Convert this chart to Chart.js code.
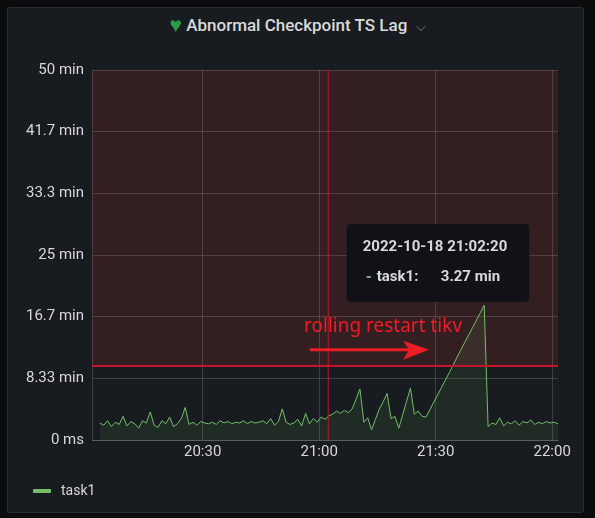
<!DOCTYPE html>
<html>
<head>
<meta charset="utf-8">
<script src="https://cdn.jsdelivr.net/npm/chart.js@4"></script>
<style>
  body { margin: 0; background: #0b0c0e; width: 595px; height: 518px; overflow: hidden; font-family: Roboto, sans-serif; }
  #panel { position: absolute; left: 7px; top: 7px; width: 575px; height: 504px; background: #181b1f; border: 1px solid #2a2d32; border-radius: 3px; }
  #title { position: absolute; left: 0; top: 13px; width: 595px; text-align: center; color: #d8d9da; font-size: 17px; font-weight: 500; }
  #title .heart { color: #299c46; font-size: 21px; vertical-align: -1px; }
  #title .caret { color: #8e8e8e; font-size: 13px; margin-left: 4px; }
  #legend { position: absolute; left: 33px; top: 482px; color: #d8d9da; font-size: 14px; }
  #legend span.sw { display: inline-block; width: 18px; height: 4px; background: #73bf69; vertical-align: middle; margin-right: 10px; border-radius: 1px; }
  canvas { position: absolute; left: 0; top: 0; }
</style>
</head>
<body>
<div id="panel"></div>
<div id="title"><span class="heart">&#x2665;</span> Abnormal Checkpoint TS Lag <span class="caret">&#x2335;</span></div>
<canvas id="c" width="595" height="518"></canvas>
<div id="legend"><span class="sw"></span>task1</div>
<script>
// minutes after 20:00, one sample per minute
const startMinute = 3.5;
const task1 = [
  2.3, 2.0, 2.6, 1.8, 2.4, 2.1, 3.2, 1.9, 2.5, 2.2,
  1.6, 2.6, 2.3, 3.8, 2.0, 1.7, 2.6, 2.2, 3.1, 1.8,
  2.2, 2.9, 4.4, 2.1, 2.4, 2.0, 2.5, 2.3, 2.2, 2.4,
  2.1, 2.6, 2.3, 2.5, 2.2, 2.4, 2.3, 2.6, 2.2, 2.5,
  2.3, 2.4, 2.6, 2.2, 2.9, 2.0, 2.5, 4.2, 2.4, 2.1,
  2.3, 2.8, 1.9, 3.6, 2.2, 2.9, 2.4, 3.1, 2.8, 3.27,
  3.5, 3.9, 3.6, 4.0, 3.7, 4.2, 5.5, 6.9, 2.4, 3.0,
  1.4, 2.8, 4.2, 5.2, 6.3, 2.9, 3.2, 1.6, 3.4, 5.2,
  7.0, 3.5, 3.9, 3.2,
  3.1, 4.1, 5.1, 6.1, 7.1, 8.1, 9.1, 10.1, 11.2, 12.2, 13.2, 14.2, 15.2, 16.2, 17.2, 18.2,
  1.8, 2.3, 2.1, 3.0, 1.9, 2.4, 2.2, 2.6, 2.0, 2.5,
  2.3, 2.7, 2.1, 2.4, 2.2, 2.5, 2.3, 2.4, 2.2
];
const yTicks = [0, 8.333, 16.667, 25, 33.333, 41.667, 50];
const yTickLabels = ['0 ms', '8.33 min', '16.7 min', '25 min', '33.3 min', '41.7 min', '50 min'];
const xTicks = [30, 60, 90, 120];
const xTickLabels = ['20:30', '21:00', '21:30', '22:00'];
const threshold = 10;
const eventMinute = 62.33;
const tooltipTitle = '2022-10-18 21:02:20';

const points = task1.map((v, i) => ({ x: startMinute + i, y: v }));

const overlay = {
  id: 'overlay',
  beforeDatasetsDraw(chart) {
    const { ctx, chartArea: a, scales: { x, y } } = chart;
    const ty = y.getPixelForValue(threshold);
    ctx.save();
    ctx.fillStyle = 'rgba(245, 54, 54, 0.12)';
    ctx.fillRect(a.left, a.top, a.right - a.left, ty - a.top);
    ctx.restore();
  },
  afterDatasetsDraw(chart) {
    const { ctx, chartArea: a, scales: { x, y } } = chart;
    const ty = y.getPixelForValue(threshold);
    ctx.save();
    ctx.strokeStyle = '#c4162a';
    ctx.lineWidth = 2;
    ctx.beginPath(); ctx.moveTo(a.left, ty); ctx.lineTo(a.right, ty); ctx.stroke();
    const ex = x.getPixelForValue(eventMinute);
    ctx.lineWidth = 1;
    ctx.beginPath(); ctx.moveTo(ex, a.top); ctx.lineTo(ex, a.bottom); ctx.stroke();
    // hand annotation
    ctx.fillStyle = '#ee1c25';
    ctx.font = '19px "Noto Sans", sans-serif';
    ctx.textBaseline = 'middle';
    ctx.fillText('rolling restart tikv', x.getPixelForValue(56.1), y.getPixelForValue(15.3));
    const ax0 = x.getPixelForValue(57.6), ax1 = x.getPixelForValue(88.3), ay = y.getPixelForValue(12.2);
    ctx.strokeStyle = '#ee1c25';
    ctx.lineWidth = 3;
    ctx.beginPath(); ctx.moveTo(ax0, ay); ctx.lineTo(ax1 - 20, ay); ctx.stroke();
    ctx.beginPath(); ctx.moveTo(ax1, ay); ctx.lineTo(ax1 - 26, ay - 9); ctx.lineTo(ax1 - 20, ay); ctx.lineTo(ax1 - 26, ay + 10); ctx.closePath(); ctx.fill();
    ctx.restore();
  }
};

Chart.Tooltip.positioners.fixedBox = function () {
  const a = this.chart.chartArea;
  return { x: a.left + 346, y: a.top + 152 };
};

const chart = new Chart(document.getElementById('c'), {
  type: 'line',
  data: {
    datasets: [{
      label: 'task1',
      data: points,
      borderColor: '#73bf69',
      backgroundColor: 'rgba(115, 191, 105, 0.1)',
      borderWidth: 1,
      fill: 'origin',
      pointRadius: 0,
      tension: 0
    }]
  },
  options: {
    responsive: false,
    animation: false,
    layout: { padding: { left: 0, right: 37, top: 70, bottom: 48 } },
    plugins: {
      legend: { display: false },
      tooltip: {
        enabled: true,
        position: 'fixedBox',
        xAlign: 'center',
        yAlign: 'top',
        caretSize: 0,
        backgroundColor: '#111217',
        titleColor: '#d8d9da',
        bodyColor: '#d8d9da',
        titleFont: { family: 'Roboto', size: 15, weight: 'bold' },
        bodyFont: { family: 'Roboto', size: 15, weight: 'bold' },
        padding: { left: 16, right: 22, top: 14, bottom: 16 },
        titleMarginBottom: 12,
        cornerRadius: 4,
        displayColors: true,
        usePointStyle: true,
        boxWidth: 12,
        boxHeight: 4,
        callbacks: {
          title: () => tooltipTitle,
          label: (c) => 'task1:      ' + c.parsed.y.toFixed(2) + ' min',
          labelPointStyle: () => ({ pointStyle: 'line', rotation: 0 }),
          labelColor: () => ({ borderColor: '#73bf69', backgroundColor: '#73bf69', borderWidth: 3 })
        }
      }
    },
    scales: {
      x: {
        type: 'linear',
        min: 1.5,
        max: 121.5,
        afterBuildTicks: (s) => { s.ticks = xTicks.map(v => ({ value: v })); },
        afterFit: (s) => { s.height = 30; },
        ticks: {
          color: '#d8d9da',
          font: { family: 'Roboto', size: 15 },
          maxRotation: 0,
          callback: (v) => xTickLabels[xTicks.indexOf(v)]
        },
        grid: { color: 'rgba(255,255,255,0.16)', drawTicks: false },
        border: { color: 'rgba(255,255,255,0.16)' }
      },
      y: {
        min: 0,
        max: 50,
        afterBuildTicks: (s) => { s.ticks = yTicks.map(v => ({ value: v })); },
        afterFit: (s) => { s.width = 92; },
        ticks: {
          color: '#d8d9da',
          font: { family: 'Roboto', size: 15 },
          padding: 8,
          callback: (v, i) => yTickLabels[i]
        },
        grid: { color: 'rgba(255,255,255,0.16)', drawTicks: false },
        border: { color: 'rgba(255,255,255,0.16)' }
      }
    }
  },
  plugins: [overlay]
});

const idx = Math.round(eventMinute - startMinute);
chart.tooltip.setActiveElements([{ datasetIndex: 0, index: idx }], { x: 0, y: 0 });
chart.update();
</script>
</body>
</html>
